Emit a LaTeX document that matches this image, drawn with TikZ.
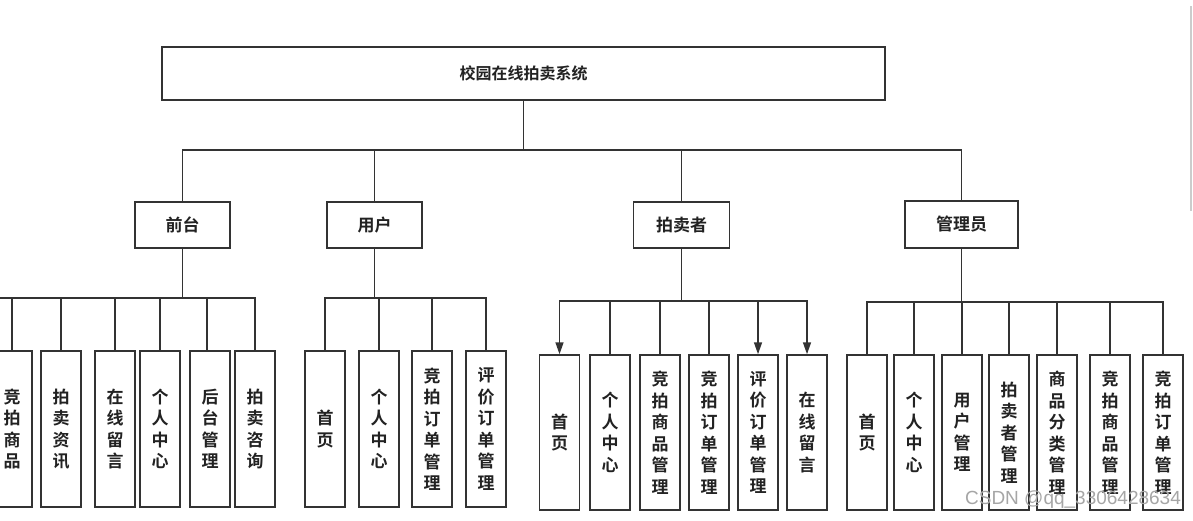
\documentclass[tikz,border=0pt]{standalone}
\usepackage{fontspec}
\newfontfamily\cjk{Noto Sans CJK SC}[BoldFont={Noto Sans CJK SC Bold}]
\newfontfamily\wmfont{Liberation Sans}
\usetikzlibrary{arrows.meta}
\definecolor{ln}{HTML}{333333}
\definecolor{tx}{HTML}{222222}
\begin{document}
\begin{tikzpicture}[x=1pt,y=-1pt,
  box/.style={draw=ln, line width=1.5pt, inner sep=0pt, text=tx,
    font=\cjk\bfseries\fontsize{17}{20}\selectfont},
  leafa/.style={box, minimum width=40pt, minimum height=156pt, align=center,
    font=\cjk\bfseries\fontsize{17}{21.5}\selectfont},
  leafb/.style={leafa, minimum height=155pt},
  conn/.style={draw=ln, line width=1.5pt},
  arr/.style={conn, -{Triangle[length=12pt,width=8pt]}}]
\useasboundingbox (0,0) rectangle (1193,520);
\clip (0,0) rectangle (1193,520);
\fill[white] (0,0) rectangle (1193,520);

% root and level 2
\node[box, minimum width=723pt, minimum height=53pt,
  font=\cjk\bfseries\fontsize{16}{19}\selectfont] (root) at (523.5,73.5) {校园在线拍卖系统};
\node[box, minimum width=95pt, minimum height=46pt] (qt) at (182.5,225) {前台};
\node[box, minimum width=95pt, minimum height=46pt] (yh) at (374.5,225) {用户};
\node[box, minimum width=96pt, minimum height=46pt] (pm) at (681.5,225) {拍卖者};
\node[box, minimum width=113pt, minimum height=47pt] (gl) at (961.5,224.5) {管理员};

% bus coordinates
\coordinate (b0) at (0,150);
\coordinate (b1) at (0,298);
\coordinate (b2) at (0,298);
\coordinate (b3) at (0,301);
\coordinate (b4) at (0,302);
\coordinate (fedge) at (-30,298);

% 前台 leaves
\node[leafa] (f1) at (12,429) {竞\\拍\\商\\品};
\node[leafa] (f2) at (61,429) {拍\\卖\\资\\讯};
\node[leafa] (f3) at (115,429) {在\\线\\留\\言};
\node[leafa] (f4) at (160,429) {个\\人\\中\\心};
\node[leafa] (f5) at (210,429) {后\\台\\管\\理};
\node[leafa] (f6) at (255,429) {拍\\卖\\咨\\询};

% 用户 leaves
\node[leafa] (u1) at (325,429) {首\\页};
\node[leafa] (u2) at (379,429) {个\\人\\中\\心};
\node[leafa] (u3) at (432,429) {竞\\拍\\订\\单\\管\\理};
\node[leafa] (u4) at (486,429) {评\\价\\订\\单\\管\\理};

% 拍卖者 leaves
\node[leafb] (p1) at (559.5,432.5) {首\\页};
\node[leafb] (p2) at (610,432.5) {个\\人\\中\\心};
\node[leafb] (p3) at (660,432.5) {竞\\拍\\商\\品\\管\\理};
\node[leafb] (p4) at (709,432.5) {竞\\拍\\订\\单\\管\\理};
\node[leafb] (p5) at (758,432.5) {评\\价\\订\\单\\管\\理};
\node[leafb] (p6) at (807,432.5) {在\\线\\留\\言};

% 管理员 leaves
\node[leafb] (g1) at (867,432.5) {首\\页};
\node[leafb] (g2) at (914,432.5) {个\\人\\中\\心};
\node[leafb] (g3) at (962,432.5) {用\\户\\管\\理};
\node[leafb] (g4) at (1009,432.5) {拍\\卖\\者\\管\\理};
\node[leafb] (g5) at (1057,432.5) {商\\品\\分\\类\\管\\理};
\node[leafb] (g6) at (1110,432.5) {竞\\拍\\商\\品\\管\\理};
\node[leafb] (g7) at (1163,432.5) {竞\\拍\\订\\单\\管\\理};

% connectors: root to level 2
\foreach \c in {qt,yh,pm,gl}
  \draw[conn] (root.south) -- (root.south |- b0) -| (\c.north);

% 前台
\draw[conn] (qt.south) -- (qt.south |- b1) -- (fedge);
\foreach \c in {f1,f2,f3,f4,f6}
  \draw[conn] (qt.south) -- (qt.south |- b1) -| (\c.north);
\draw[conn] (qt.south) -- (qt.south |- b1) -| ([xshift=-3pt]f5.north);

% 用户
\foreach \c in {u1,u2,u3,u4}
  \draw[conn] (yh.south) -- (yh.south |- b2) -| (\c.north);

% 拍卖者
\foreach \c in {p2,p3,p4}
  \draw[conn] (pm.south) -- (pm.south |- b3) -| (\c.north);
\foreach \c in {p1,p5,p6}
  \draw[arr] (pm.south) -- (pm.south |- b3) -| (\c.north);

% 管理员
\foreach \c in {g1,g2,g3,g4,g5,g6,g7}
  \draw[conn] (gl.south) -- (gl.south |- b4) -| (\c.north);

% watermark and scrollbar edge
\node[text=black!35, font=\wmfont\fontsize{19}{22}\selectfont, inner sep=0pt]
  (wm) at (1073,500) {CSDN @qq\_3306428634};
\coordinate (sb1) at (1191,6);
\coordinate (sb2) at (1191,211);
\draw[black!20, line width=2pt] (sb1) -- (sb2);
\end{tikzpicture}
\end{document}
